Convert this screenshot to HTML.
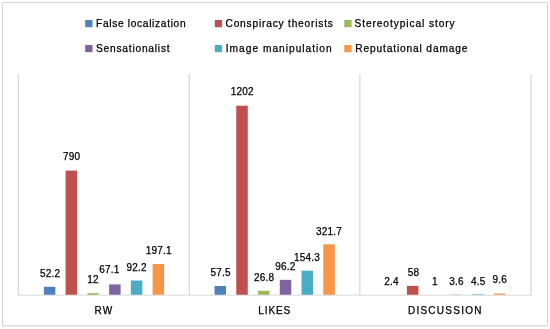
<!DOCTYPE html>
<html><head><meta charset="utf-8"><title>Chart</title>
<style>
html,body{margin:0;padding:0;background:#fff;}
body{width:550px;height:329px;overflow:hidden;}
svg{display:block;}
text{font-family:"Liberation Sans",Arial,sans-serif;fill:#000;stroke:#000;stroke-width:0.25px;}
.lg{font-size:10.2px;}
.dl{font-size:10px;text-anchor:middle;letter-spacing:0.2px;}
.ct{font-size:10px;text-anchor:middle;letter-spacing:1.25px;}
</style></head><body>
<svg width="550" height="329" viewBox="0 0 550 329">
<rect x="0" y="0" width="550" height="329" fill="#fff"/>
<path d="M2.5 2.5H547.4V325.9H2.5Z" fill="none" stroke="#d6d6d6" stroke-width="1.1"/>

<g stroke="#d9d9d9" stroke-width="1.3" fill="none">
<line x1="18.4" y1="74" x2="18.4" y2="295"/>
<line x1="189.35" y1="74" x2="189.35" y2="295"/>
<line x1="359.85" y1="74" x2="359.85" y2="295"/>
<line x1="530.9" y1="74" x2="530.9" y2="295"/>
</g>
<rect x="85.2" y="20" width="7.3" height="7.2" fill="#4f81bd"/>
<text class="lg" x="96" y="27" textLength="89.6" lengthAdjust="spacing">False localization</text>
<rect x="214.8" y="20" width="7.3" height="7.2" fill="#c0504d"/>
<text class="lg" x="225.5" y="27" textLength="107.4" lengthAdjust="spacing">Conspiracy theorists</text>
<rect x="344.25" y="20" width="7.3" height="7.2" fill="#9bbb59"/>
<text class="lg" x="354.45" y="27" textLength="100.2" lengthAdjust="spacing">Stereotypical story</text>
<rect x="85.2" y="45" width="7.3" height="7.2" fill="#8064a2"/>
<text class="lg" x="96" y="52" textLength="73.6" lengthAdjust="spacing">Sensationalist</text>
<rect x="214.8" y="45" width="7.3" height="7.2" fill="#4bacc6"/>
<text class="lg" x="225.7" y="52" textLength="106" lengthAdjust="spacing">Image manipulation</text>
<rect x="344.25" y="45" width="7.3" height="7.2" fill="#f79646"/>
<text class="lg" x="355.25" y="52" textLength="112.2" lengthAdjust="spacing">Reputational damage</text>
<rect x="43.85" y="286.78" width="11.5" height="8.22" fill="#4f81bd"/>
<rect x="65.60" y="170.57" width="11.5" height="124.42" fill="#c0504d"/>
<rect x="87.35" y="293.11" width="11.5" height="1.89" fill="#9bbb59"/>
<rect x="109.10" y="284.43" width="11.5" height="10.57" fill="#8064a2"/>
<rect x="130.85" y="280.48" width="11.5" height="14.52" fill="#4bacc6"/>
<rect x="152.60" y="263.96" width="11.5" height="31.04" fill="#f79646"/>
<rect x="214.52" y="285.94" width="11.5" height="9.06" fill="#4f81bd"/>
<rect x="236.27" y="105.69" width="11.5" height="189.31" fill="#c0504d"/>
<rect x="258.02" y="290.78" width="11.5" height="4.22" fill="#9bbb59"/>
<rect x="279.77" y="279.85" width="11.5" height="15.15" fill="#8064a2"/>
<rect x="301.52" y="270.70" width="11.5" height="24.30" fill="#4bacc6"/>
<rect x="323.27" y="244.33" width="11.5" height="50.67" fill="#f79646"/>
<rect x="406.93" y="285.87" width="11.5" height="9.13" fill="#c0504d"/>
<rect x="450.43" y="294.43" width="11.5" height="0.57" fill="#8064a2" opacity="0.5"/>
<rect x="472.18" y="294.29" width="11.5" height="0.71" fill="#4bacc6"/>
<rect x="493.93" y="293.49" width="11.5" height="1.51" fill="#f79646"/>
<line x1="18" y1="295.2" x2="531.5" y2="295.2" stroke="#dadada" stroke-width="1"/>
<text class="dl" x="50.20" y="276.70">52.2</text>
<text class="dl" x="71.55" y="160.30">790</text>
<text class="dl" x="92.95" y="282.70">12</text>
<text class="dl" x="109.35" y="272.60">67.1</text>
<text class="dl" x="136.60" y="270.80">92.2</text>
<text class="dl" x="158.85" y="253.70">197.1</text>
<text class="dl" x="220.65" y="276.40">57.5</text>
<text class="dl" x="242.20" y="95.20">1202</text>
<text class="dl" x="264.10" y="281.40">26.8</text>
<text class="dl" x="285.30" y="269.70">96.2</text>
<text class="dl" x="307.00" y="261.00">154.3</text>
<text class="dl" x="328.95" y="234.80">321.7</text>
<text class="dl" x="391.60" y="284.70">2.4</text>
<text class="dl" x="413.45" y="275.90">58</text>
<text class="dl" x="434.95" y="285.10">1</text>
<text class="dl" x="456.50" y="284.70">3.6</text>
<text class="dl" x="478.20" y="284.70">4.5</text>
<text class="dl" x="499.70" y="283.20">9.6</text>
<text class="ct" x="103.89999999999999" y="314.1" style="letter-spacing:1.25px">RW</text>
<text class="ct" x="274.75" y="314.1" style="letter-spacing:0.9px">LIKES</text>
<text class="ct" x="445.3" y="314.1" style="letter-spacing:1.25px">DISCUSSION</text>
</svg></body></html>
